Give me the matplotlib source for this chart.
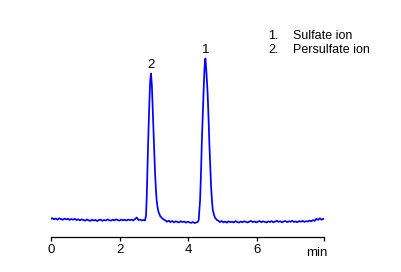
import matplotlib
matplotlib.use("Agg")
import matplotlib.pyplot as plt

plt.rcParams['font.family'] = ['Liberation Sans', 'DejaVu Sans']

# Chromatogram trace (time in min, signal in arbitrary units)
time_base_a = [
    0.00, 0.05, 0.10, 0.15, 0.20, 0.25, 0.30, 0.35, 0.40, 0.45, 0.50, 0.55, 0.60,
    0.65, 0.70, 0.75, 0.80, 0.85, 0.90, 0.95, 1.00, 1.05, 1.10, 1.15, 1.20, 1.25,
    1.30, 1.35, 1.40, 1.45, 1.50, 1.55, 1.60, 1.65, 1.70, 1.75, 1.80, 1.85, 1.90,
    1.95, 2.00, 2.05, 2.10, 2.15, 2.20, 2.25, 2.30, 2.35, 2.40, 2.45, 2.50, 2.55,
    2.60, 2.65, 2.70,
]
signal_base_a = [
    0.5, 1.3, 0.2, 1.0, -0.1, 1.2, 0.4, -0.3, 0.9, 0.1, 0.8, -0.4, 0.5,
    -0.2, 0.7, -0.6, 0.3, -0.9, 0.2, -0.5, -1.2, 0.0, -0.8, -1.4, -0.2, -1.1,
    -0.4, -1.5, -0.6, -0.1, -1.3, -0.5, -1.0, 0.1, -0.7, -1.2, -0.2, -0.9, 0.2,
    -0.6, -1.1, -0.1, -0.8, -0.3, -1.0, 0.0, -0.6, -0.2, -0.9, 0.4, 2.0, -0.5,
    -0.1, -1.0, -0.4,
]
time_peak_2 = [2.74, 2.77, 2.79, 2.81, 2.83, 2.86, 2.89, 2.915, 2.94, 2.98,
               3.01, 3.03, 3.06, 3.08, 3.11, 3.13, 3.18, 3.23, 3.28]
signal_peak_2 = [-1.0, 4.0, 22.0, 50.0, 75.0, 110.0, 138.0, 146.0, 134.0, 95.0,
                 66.0, 48.0, 28.0, 19.0, 11.0, 8.0, 3.5, 1.5, 0.0]
time_base_b = [3.33, 3.38, 3.43, 3.48, 3.53, 3.58, 3.63, 3.68, 3.73, 3.78,
               3.83, 3.88, 3.93, 3.98, 4.03, 4.08, 4.13, 4.18, 4.23]
signal_base_b = [-0.8, -2.2, -1.2, -2.6, -1.5, -2.9, -1.8, -2.4, -3.0, -1.7,
                 -2.6, -2.0, -3.1, -2.2, -2.8, -3.4, -2.5, -3.6, -3.0]
time_peak_1 = [4.27, 4.30, 4.34, 4.37, 4.39, 4.42, 4.44, 4.47, 4.495, 4.52, 4.56,
               4.59, 4.61, 4.64, 4.66, 4.69, 4.71, 4.75, 4.78, 4.83, 4.87]
signal_peak_1 = [-2.5, -0.6, 19.0, 50.0, 76.0, 108.0, 126.0, 152.0, 161.0, 150.0,
                 126.0, 98.0, 76.0, 50.0, 33.0, 17.0, 9.5, 4.0, 1.5, -0.5, -1.2]
time_base_c = [
    4.92, 4.97, 5.02, 5.07, 5.12, 5.17, 5.22, 5.27, 5.32, 5.37, 5.42, 5.47, 5.52,
    5.57, 5.62, 5.67, 5.72, 5.77, 5.82, 5.87, 5.92, 5.97, 6.02, 6.07, 6.12, 6.17,
    6.22, 6.27, 6.32, 6.37, 6.42, 6.47, 6.52, 6.57, 6.62, 6.67, 6.72, 6.77, 6.82,
    6.87, 6.92, 6.97, 7.02, 7.07, 7.12, 7.17, 7.22, 7.27, 7.32, 7.37, 7.42, 7.47,
    7.52, 7.57, 7.62, 7.67, 7.72, 7.77, 7.82, 7.87, 7.92, 7.95,
]
signal_base_c = [
    -2.6, -1.5, -2.9, -2.0, -3.2, -1.8, -2.7, -2.2, -3.0, -1.6, -2.5, -3.1, -2.0,
    -2.8, -1.7, -2.4, -3.0, -2.1, -1.4, -2.6, -1.9, -2.9, -2.2, -1.5, -2.7, -1.8,
    -2.4, -3.0, -1.9, -2.5, -1.6, -2.8, -2.1, -1.3, -2.4, -1.7, -2.9, -2.0, -1.5,
    -2.6, -1.8, -2.3, -1.2, -2.5, -1.9, -2.7, -1.6, -2.2, -1.4, -2.4, -1.7, -2.0,
    -1.1, -1.8, -0.6, -1.4, 0.8, -0.4, 1.2, -0.2, 0.7, 0.3,
]
peak_numbers = ['2', '1']
peak_times = [2.915, 4.495]
peak_heights = [146.0, 161.0]
legend_numbers = ['1.', '2.']
legend_names = ['Sulfate ion', 'Persulfate ion']
x_ticks = [0, 2, 4, 6, 7.95]
x_tick_labels = ['0', '2', '4', '6', '']

time_min = time_base_a + time_peak_2 + time_base_b + time_peak_1 + time_base_c
signal = signal_base_a + signal_peak_2 + signal_base_b + signal_peak_1 + signal_base_c

W, H = 402, 272
fig = plt.figure(figsize=(W / 100, H / 100), dpi=100)
ax_left, ax_right = 50.7, 324.3
ax_bottom, ax_top = 236.7, 20.0
ax = fig.add_axes([ax_left / W, (H - ax_bottom) / H,
                   (ax_right - ax_left) / W, (ax_bottom - ax_top) / H])
ax.plot(time_min, signal, color='#0000ff', lw=1.25)
ax.set_xlim(0, 7.95)
ax.set_ylim(-17.2, 199.5)
for s in ['left', 'top', 'right']:
    ax.spines[s].set_visible(False)
ax.spines['bottom'].set_linewidth(0.9)
ax.set_yticks([])
ax.set_xticks(x_ticks)
ax.set_xticklabels(x_tick_labels)
ax.tick_params(axis='x', direction='out', length=3, width=0.9, pad=2,
               labelsize=9.5, colors='black')

for lab, t, h in zip(peak_numbers, peak_times, peak_heights):
    ax.text(t, h + 2.5, lab, ha='center', va='bottom', fontsize=9.5)

fig.text(316.7 / W, 1 - 252.5 / H, 'min', ha='center', va='center', fontsize=9.5)

for i, (num, name) in enumerate(zip(legend_numbers, legend_names)):
    y = 1 - (36.0 + 14.0 * i) / H
    fig.text(268.5 / W, y, num, ha='left', va='center', fontsize=9)
    fig.text(293.3 / W, y, name, ha='left', va='center', fontsize=9)

fig.savefig('out.png', dpi=100)
